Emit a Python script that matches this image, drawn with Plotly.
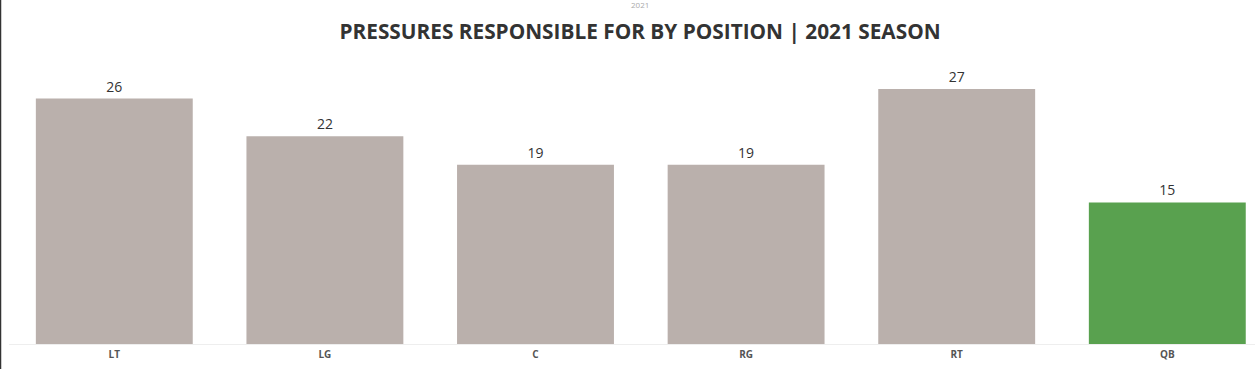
import plotly.graph_objects as go

positions = ["LT", "LG", "C", "RG", "RT", "QB"]
pressures = [26, 22, 19, 19, 27, 15]
bar_colors = ["#bab0ac", "#bab0ac", "#bab0ac", "#bab0ac", "#bab0ac", "#59a14f"]

W, H = 1255, 369
ml, mr, mt, mb = 9, 0, 60, 25
plot_w = W - ml - mr
plot_h = H - mt - mb

fig = go.Figure(go.Bar(
    x=list(range(len(positions))),
    y=pressures,
    marker=dict(color=bar_colors, line=dict(width=0)),
    width=0.745,
    text=[str(v) for v in pressures],
    textposition="outside",
    cliponaxis=False,
    textfont=dict(family="Open Sans, sans-serif", size=14, color="#333333"),
    hoverinfo="skip",
))

fig.update_layout(
    width=W, height=H,
    margin=dict(l=ml, r=mr, t=mt, b=mb),
    paper_bgcolor="white", plot_bgcolor="white",
    showlegend=False,
    title=dict(
        text="<b>PRESSURES RESPONSIBLE FOR BY POSITION | 2021 SEASON</b>",
        x=0.51, xanchor="center", y=1 - 32 / H, yanchor="middle",
        font=dict(family="Open Sans, sans-serif", size=20.8, color="#333333"),
    ),
    xaxis=dict(
        range=[-0.5, -0.5 + plot_w / 210.6],
        tickvals=list(range(len(positions))),
        ticktext=["<b>" + p + "</b>" for p in positions],
        tickfont=dict(family="Open Sans, sans-serif", size=10, color="#555555"),
        ticklabelstandoff=3,
        showgrid=False, zeroline=False, showline=False,
        ticks="", ticklen=0,
    ),
    yaxis=dict(
        range=[0, plot_h / 9.44],
        showticklabels=False, showgrid=False,
        zeroline=True, zerolinecolor="#eeeeee", zerolinewidth=1,
        showline=False, ticks="",
    ),
    annotations=[
        dict(text="2021", xref="paper", yref="paper",
             x=(640 - ml) / plot_w, y=1 + (mt - 4) / plot_h,
             xanchor="center", yanchor="middle", showarrow=False,
             font=dict(family="Open Sans, sans-serif", size=8, color="#aaaaaa")),
    ],
    shapes=[
        dict(type="line", xref="paper", yref="paper",
             x0=(0.5 - ml) / plot_w, x1=(0.5 - ml) / plot_w,
             y0=-mb / plot_h, y1=1 + mt / plot_h,
             line=dict(color="#333333", width=1.5)),
    ],
)

fig.write_html("out.html")
